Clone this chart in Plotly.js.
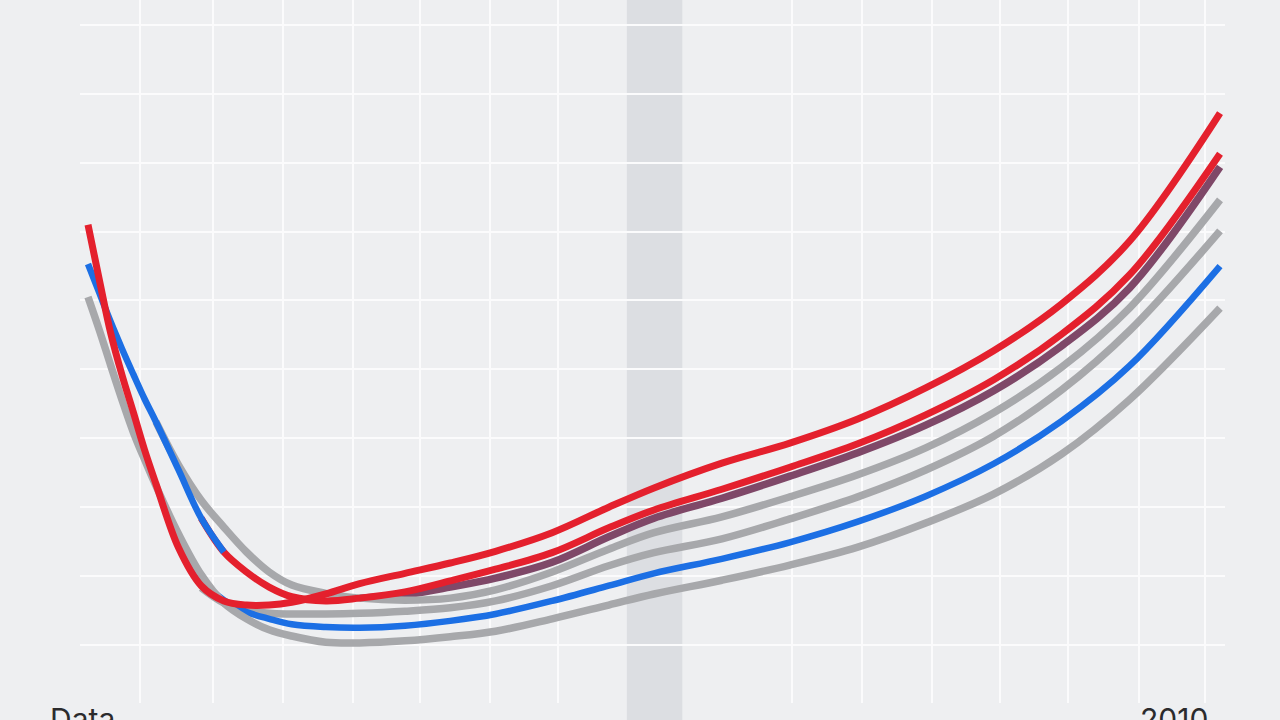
<!DOCTYPE html>
<html>
<head>
<meta charset="utf-8">
<script src="https://cdn.plot.ly/plotly-3.0.1.min.js"></script>
<style>
  html, body { margin: 0; padding: 0; background: #eeeff1; }
  #chart { width: 1280px; height: 720px; }
</style>
</head>
<body>
<div id="chart"></div>
<script>
// ---- data ----
const xGrid = [0,1,2,3,4,5,6,8,10,12,14,16,18,21,24,28,32,36,41,46,50,56,62,68,74,80,86,92,100];

const redTop = [61.0,53.0,45.3,39.2,33.8,28.3,23.4,14.1,8.6,6.4,5.8,5.8,6.2,7.4,8.9,10.4,11.9,13.6,16.3,20.0,22.8,26.4,29.3,32.8,37.3,42.7,49.5,58.6,77.2];

const redSecond = [null,null,null,null,null,null,null,null,18.4,13.5,10.6,8.4,7.0,6.4,6.8,7.7,9.3,11.0,13.4,17.0,19.6,22.6,25.8,29.2,33.4,38.5,45.1,53.7,71.3];

const purpleShadow = [null,null,null,null,null,null,null,null,null,null,null,null,null,null,6.8,7.3,8.4,9.7,12.0,15.7,18.4,21.3,24.5,27.9,31.9,36.9,43.4,51.8,69.4];

const grayUpper = [null,null,null,null,null,null,32.4,26.1,21.0,17.1,13.5,10.6,8.7,7.5,6.8,6.5,6.8,8.0,10.6,13.9,16.3,18.6,21.5,24.7,28.6,33.7,40.3,48.9,64.6];

const grayMiddle = [null,null,null,null,null,null,null,null,8.3,6.1,5.1,4.6,4.5,4.5,4.6,4.9,5.4,6.4,8.6,11.5,13.4,15.4,18.3,21.5,25.4,30.3,37.0,45.6,60.1];

const blueMain = [null,null,null,null,null,null,null,16.0,9.7,6.5,4.8,3.8,3.0,2.6,2.5,2.8,3.5,4.5,6.4,8.6,10.4,12.5,14.9,17.9,21.6,26.3,32.5,40.5,55.0];

const blueEarly = [55.3,51.1,46.9,43.0,39.3,35.7,32.4,25.4,18.4,13.5,null,null,null,null,null,null,null,null,null,null,null,null,null,null,null,null,null,null,null];

const grayLower = [50.5,45.7,40.6,35.6,30.9,26.9,23.1,16.1,10.2,6.1,3.8,2.2,1.3,0.4,0.3,0.6,1.2,2.0,3.8,5.8,7.4,9.4,11.6,14.2,17.7,21.9,27.7,35.6,48.9];

const xLabels = ["Data", "2010"];
const gridX = [4.6, 11.0, 17.2, 23.4, 29.3, 35.5, 41.5, 62.2, 68.4, 74.6, 80.6, 86.6, 92.8, 98.7];
const bandRange = [47.6, 52.5];

// ---- styling ----
const RED = '#e4202d', BLUE = '#1c6fe4', GRAY = '#a7a8ab', PURPLE = '#7f4868';

function tr(y, color, width) {
  return {
    x: xGrid, y: y, type: 'scatter', mode: 'lines',
    line: { color: color, width: width, shape: 'spline', smoothing: 1 },
    connectgaps: false, hoverinfo: 'skip', showlegend: false
  };
}

const traces = [
  tr(purpleShadow, PURPLE, 7.5),
  tr(grayUpper, GRAY, 7.5),
  tr(grayMiddle, GRAY, 7.5),
  tr(blueMain, BLUE, 6.5),
  tr(grayLower, GRAY, 7.5),
  tr(redSecond, RED, 7),
  tr(blueEarly, BLUE, 6.5),
  tr(redTop, RED, 7)
];

const layout = {
  width: 1280, height: 720,
  margin: { l: 80, r: 55, t: 0, b: 17, pad: 0 },
  paper_bgcolor: '#eeeff1',
  plot_bgcolor: '#eeeff1',
  showlegend: false,
  xaxis: {
    range: [-0.707, 100.44],
    tickmode: 'array', tickvals: gridX,
    showticklabels: false, ticks: '',
    showgrid: true, gridcolor: '#fbfbfc', gridwidth: 2,
    zeroline: false, showline: false, fixedrange: true
  },
  yaxis: {
    range: [-8.42, 93.61],
    dtick: 10, tick0: 0,
    showticklabels: false, ticks: '',
    showgrid: true, gridcolor: '#fbfbfc', gridwidth: 2,
    zeroline: false, showline: false, fixedrange: true
  },
  shapes: [{
    type: 'rect', xref: 'x', yref: 'paper',
    x0: bandRange[0], x1: bandRange[1], y0: -0.03, y1: 1.01,
    fillcolor: '#dcdee2', line: { width: 0 }, layer: 'between'
  }],
  annotations: [
    { text: xLabels[0], xref: 'paper', yref: 'paper', x: -0.0279, y: 0, xanchor: 'left', yanchor: 'top', yshift: 4,
      showarrow: false, font: { family: 'Inter, Roboto, sans-serif', size: 30, color: '#2b2b2d' } },
    { text: xLabels[1], xref: 'paper', yref: 'paper', x: 0.9869, y: 0, xanchor: 'right', yanchor: 'top', yshift: 4,
      showarrow: false, font: { family: 'Inter, Roboto, sans-serif', size: 30, color: '#2b2b2d' } }
  ]
};

Plotly.newPlot('chart', traces, layout, { displayModeBar: false, staticPlot: true });
</script>
</body>
</html>
